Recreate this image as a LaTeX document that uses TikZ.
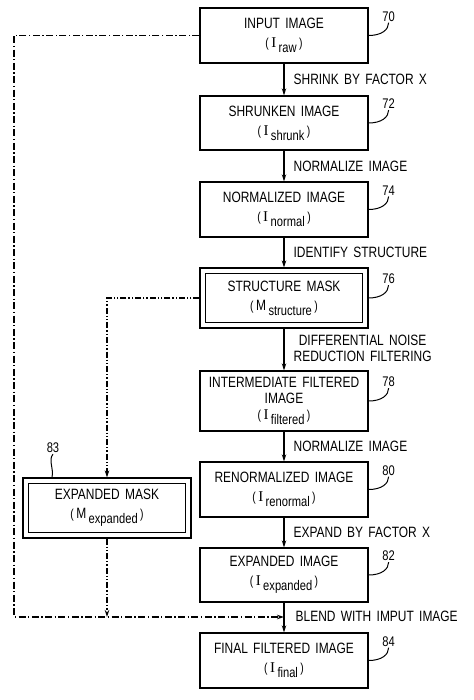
\documentclass[tikz,border=0pt]{standalone}
\usepackage{fontspec}
\setmainfont{Liberation Sans}[FakeStretch=0.8, WordSpace=1.6]
\newfontfamily\serifI{Liberation Serif}
\usetikzlibrary{arrows.meta}

\newcommand{\imgvar}[2]{{\fontsize{13}{13}\selectfont(}\,{#1}\,\raisebox{-0.65ex}{\fontsize{14}{14}\selectfont #2}\,{\fontsize{13}{13}\selectfont)}}

\begin{document}
\begin{tikzpicture}[x=1bp, y=-1bp,
	box/.style={draw, line width=1.3bp, minimum width=168bp, minimum height=55bp, inner sep=0pt, align=center, font=\fontsize{15}{16}\selectfont},
	dbox/.style={box, double, double distance=4bp, minimum width=162.5bp, minimum height=54.5bp, outer sep=3.3bp},
	arr/.style={line width=1.3bp, -{Stealth[length=7bp, width=4.5bp]}},
	lbl/.style={anchor=west, xshift=9bp, align=center, inner sep=0pt, font=\fontsize{15}{15}\selectfont},
	dashdot/.style={line width=1.1bp, dash pattern=on 7bp off 2.5bp on 1.3bp off 2.5bp},
	dashdotdot/.style={line width=1.1bp, dash pattern=on 6bp off 2bp on 1.3bp off 2bp on 1.3bp off 2bp},
	refnum/.style={inner sep=1bp, font=\fontsize{14}{14}\selectfont},
	lead/.style={line width=1bp}]
	\useasboundingbox (0,0) rectangle (474,700);

	% main column
	\node[box] (in70) at (284,35.5) {INPUT IMAGE\\[3bp]\imgvar{\serifI I}{raw}};
	\node[box, minimum height=54bp] (shr72) at (284,123) {SHRUNKEN IMAGE\\[3bp]\imgvar{\serifI I}{shrunk}};
	\node[box] (nrm74) at (284,209.5) {NORMALIZED IMAGE\\[3bp]\imgvar{\serifI I}{normal}};
	\node[dbox] (mask76) at (284,298) {STRUCTURE MASK\\[3bp]\imgvar{M}{structure}};
	\node[box, minimum height=60bp] (flt78) at (284,401) {INTERMEDIATE FILTERED\\IMAGE\\\imgvar{\serifI I}{filtered}};
	\node[box] (ren80) at (284,489.5) {RENORMALIZED IMAGE\\[3bp]\imgvar{\serifI I}{renormal}};
	\node[box, minimum height=54bp] (exp82) at (284,575) {EXPANDED IMAGE\\[3bp]\imgvar{\serifI I}{expanded}};
	\node[box] (fin84) at (284,660.5) {FINAL FILTERED IMAGE\\[3bp]\imgvar{\serifI I}{final}};

	% side box
	\node[dbox] (exp83) at (107,508) {EXPANDED MASK\\[3bp]\imgvar{M}{expanded}};

	\draw[arr] (in70) -- node[lbl] {SHRINK BY FACTOR X} (shr72);
	\draw[arr] (shr72) -- node[lbl] {NORMALIZE IMAGE} (nrm74);
	\draw[arr] (nrm74) -- node[lbl] {IDENTIFY STRUCTURE} (mask76);
	\draw[arr] (mask76) -- node[lbl, yshift=1bp] {DIFFERENTIAL NOISE\\[1bp]REDUCTION FILTERING} (flt78);
	\draw[arr] (flt78) -- node[lbl] {NORMALIZE IMAGE} (ren80);
	\draw[arr] (ren80) -- node[lbl] {EXPAND BY FACTOR X} (exp82);
	\draw[arr] (exp82) -- node[lbl, yshift=1.5bp, xshift=2bp] {BLEND WITH IMPUT IMAGE} (fin84);

	% bypass lines
	\coordinate (cornerL) at (14,617);
	\coordinate (blendpt) at (284,617);
	\draw[dashdot, -{Stealth[length=7bp, width=4.5bp]}] (in70.west) -| (cornerL) -- (blendpt);
	\draw[dashdotdot, -{Stealth[length=7bp, width=4.5bp]}] (mask76.west) -| (exp83.north);
	\draw[dashdotdot, -{Stealth[length=7bp, width=4.5bp]}] (exp83.south) -- (exp83.south |- blendpt);

	% reference numbers
	\foreach \nd/\num in {in70/70, shr72/72, nrm74/74, mask76/76, flt78/78, ren80/80, exp82/82, fin84/84} {
		\node[refnum] (n\num) at ([shift={(20,-19)}]\nd.east) {\num};
		\draw[lead] (\nd.east) .. controls +(13,0) and +(0,7) .. (n\num.south);
	}
	\node[refnum] (n83) at (53,448) {83};
	\draw[lead] (n83.south) .. controls +(-5,6) and +(2,-9) .. ([xshift=-55bp]exp83.north);
\end{tikzpicture}
\end{document}
